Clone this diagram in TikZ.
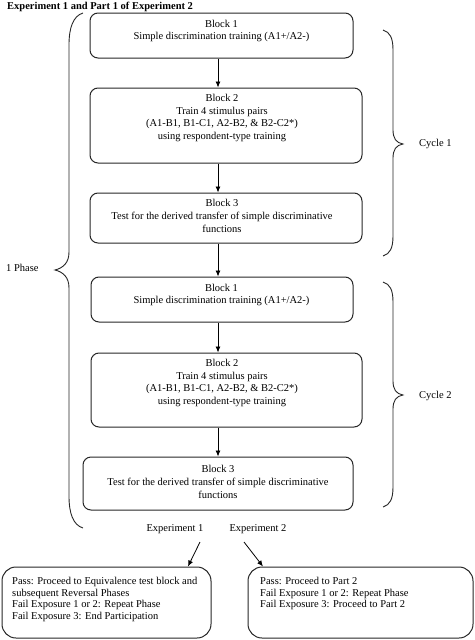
\documentclass[tikz,border=0pt]{standalone}
\usepackage{fontspec}
\setmainfont{Liberation Serif}
\usetikzlibrary{arrows.meta}
\begin{document}
\begin{tikzpicture}[x=1pt,y=-1pt,
  blk/.style={draw=black!85, line width=1pt, rounded corners=8pt, inner sep=0pt},
  outbox/.style={draw=black!85, line width=1pt, rounded corners=14pt, inner sep=0pt},
  txt/.style={align=center, font=\fontsize{10.5}{12.6}\selectfont, inner sep=0pt},
  ltxt/.style={align=left, font=\fontsize{10.5}{11.8}\selectfont, inner sep=0pt, anchor=west},
  arr/.style={-{Latex[length=6pt,width=5pt]}, line width=0.8pt},
  brc/.style={line width=0.9pt, black!85}]
\useasboundingbox (0,0) rectangle (474,640);
% title
\node[anchor=base west, inner sep=0pt, font=\fontsize{10.5}{12}\selectfont\bfseries] (title) at (7,9) {Experiment 1 and Part 1 of Experiment 2};
% cycle 1 blocks
\node[blk, minimum width=263, minimum height=45] (c1b1) at (221.5,35.5) {};
\node[txt] (c1t1) at (221.5,31) {Block 1\\Simple discrimination training (A1+/A2-)};
\node[blk, minimum width=272, minimum height=75] (c1b2) at (226,125.5) {};
\node[txt] (c1t2) at (222,118) {Block 2\\Train 4 stimulus pairs\\(A1-B1, B1-C1, A2-B2, \& B2-C2*)\\using respondent-type training};
\node[blk, minimum width=272, minimum height=50] (c1b3) at (226,218) {};
\node[txt] (c1t3) at (222,216) {Block 3\\Test for the derived transfer of simple discriminative\\functions};
% cycle 2 blocks
\node[blk, minimum width=262, minimum height=45] (c2b1) at (222,299.5) {};
\node[txt] (c2t1) at (221.5,295) {Block 1\\Simple discrimination training (A1+/A2-)};
\node[blk, minimum width=271, minimum height=74] (c2b2) at (226.5,390) {};
\node[txt] (c2t2) at (222,383) {Block 2\\Train 4 stimulus pairs\\(A1-B1, B1-C1, A2-B2, \& B2-C2*)\\using respondent-type training};
\node[blk, minimum width=270, minimum height=53] (c2b3) at (218,483.5) {};
\node[txt] (c2t3) at (218,482) {Block 3\\Test for the derived transfer of simple discriminative\\functions};
% vertical arrows
\coordinate (ax) at (218,0);
\draw[arr] (c1b1.south -| ax) -- (c1b2.north -| ax);
\draw[arr] (c1b2.south -| ax) -- (c1b3.north -| ax);
\draw[arr] (c1b3.south -| ax) -- (c2b1.north -| ax);
\draw[arr] (c2b1.south -| ax) -- (c2b2.north -| ax);
\draw[arr] (c2b2.south -| ax) -- (c2b3.north -| ax);
% left phase brace
\draw[brc] (83,13) .. controls (73,16) and (69,28) .. (69,45) -- (69,252)
  .. controls (69,263) and (63,268) .. (55,270) .. controls (63,272) and (69,277) .. (69,288)
  -- (69,496) .. controls (69,513) and (73,525) .. (83,528);
\node[anchor=west, inner sep=0pt, font=\fontsize{10.5}{12}\selectfont] (phase) at (6,268) {1 Phase};
% cycle braces
\draw[brc] (383,30) .. controls (390,32) and (393,38) .. (393,50) -- (393,130)
  .. controls (393,138) and (396,143) .. (403,144) .. controls (396,145) and (393,150) .. (393,158)
  -- (393,236) .. controls (393,248) and (390,254) .. (383,256);
\node[anchor=west, inner sep=0pt, font=\fontsize{10.5}{12}\selectfont] (cyc1) at (419,144) {Cycle 1};
\draw[brc] (383,282) .. controls (390,284) and (393,290) .. (393,302) -- (393,381)
  .. controls (393,389) and (396,394) .. (403,395) .. controls (396,396) and (393,401) .. (393,409)
  -- (393,487) .. controls (393,499) and (390,505) .. (383,507);
\node[anchor=west, inner sep=0pt, font=\fontsize{10.5}{12}\selectfont] (cyc2) at (419,396) {Cycle 2};
% experiment labels
\node[txt] (exp1) at (175,529) {Experiment 1};
\node[txt] (exp2) at (258,529) {Experiment 2};
% bottom boxes
\node[outbox, minimum width=209, minimum height=71] (lb) at (106.5,602.5) {};
\node[ltxt] (lbt) at (12,599.5) {Pass: Proceed to Equivalence test block and\\subsequent Reversal Phases\\Fail Exposure 1 or 2: Repeat Phase\\Fail Exposure 3: End Participation};
\node[outbox, minimum width=225, minimum height=71] (rb) at (360.5,602.5) {};
\node[ltxt] (rbt) at (260,593.5) {Pass: Proceed to Part 2\\Fail Exposure 1 or 2: Repeat Phase\\Fail Exposure 3: Proceed to Part 2};
% experiment arrows
\coordinate (e1s) at (200,542);
\coordinate (e2s) at (244,542);
\draw[arr] (e1s) -- (lb.north -| 188,0);
\draw[arr] (e2s) -- (rb.north -| 263,0);
\end{tikzpicture}
\end{document}
